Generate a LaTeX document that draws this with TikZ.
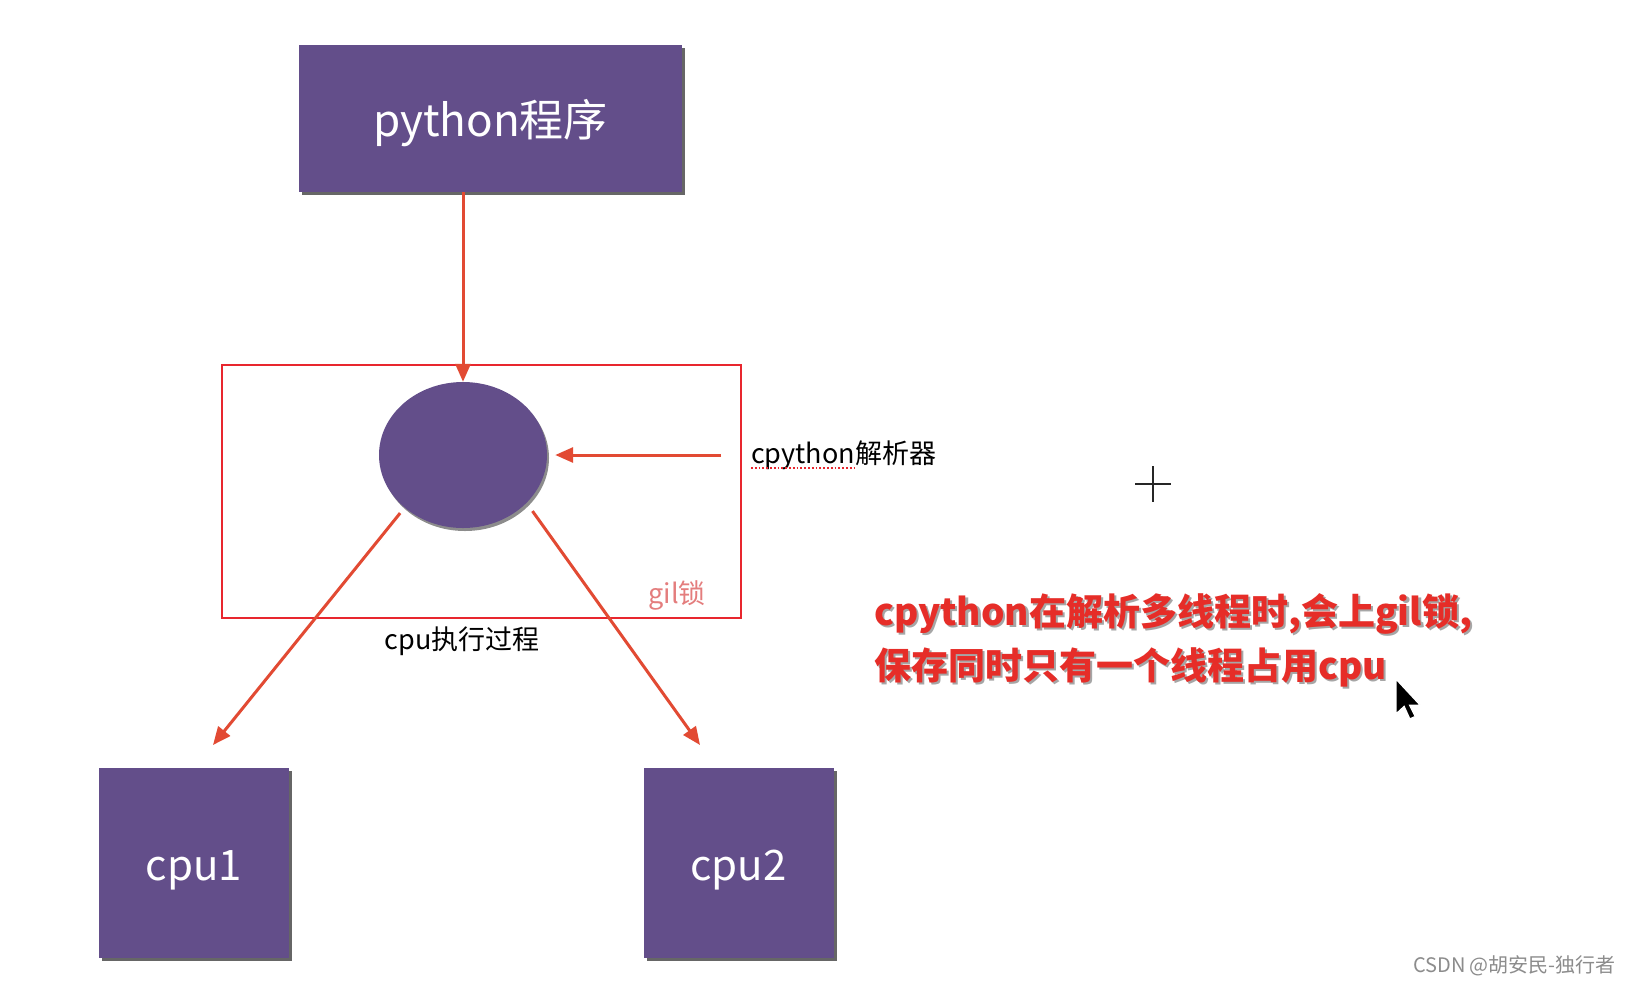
\documentclass[tikz,border=0pt]{standalone}
\usepackage{fontspec}
\setmainfont{Noto Sans CJK SC}
\usetikzlibrary{arrows.meta,shapes.geometric,shadows,calc}
\definecolor{boxpurple}{RGB}{99,78,138}
\definecolor{arrowred}{RGB}{226,74,51}
\definecolor{gilred}{RGB}{232,38,46}
\definecolor{gilpink}{RGB}{228,125,125}
\definecolor{notered}{RGB}{230,45,40}
\tikzset{
  purplebox/.style={fill=boxpurple, text=white, inner sep=0pt,
    drop shadow={shadow xshift=3pt, shadow yshift=-3pt, fill=black, opacity=0.6}},
  arr/.style={draw=arrowred, line width=3pt, -{Triangle[length=18pt,width=15pt]}},
  plain/.style={inner sep=0pt, text=black},
  notetxt/.style={inner sep=0pt, anchor=base west, font=\bfseries\fontsize{37}{40}\selectfont},
}
\begin{document}
\begin{tikzpicture}[x=1pt,y=-1pt]
\useasboundingbox[fill=white] (0,0) rectangle (1632,986);

% boxes
\node[purplebox, minimum width=383pt, minimum height=147pt,
  font=\fontsize{44}{48}\selectfont] (py) at (490.5,118.5) {\raisebox{-18pt}[0pt][0pt]{python程序}};
\node[ellipse, fill=boxpurple, minimum width=168pt, minimum height=146pt,
  drop shadow={shadow xshift=2pt, shadow yshift=-3pt, fill=black, opacity=0.45}] (cp) at (463,455) {};
\node[draw=gilred, line width=2.8pt, minimum width=519pt, minimum height=253pt] (gil) at (481.5,491.5) {};
\node[purplebox, minimum width=190pt, minimum height=190pt,
  font=\fontsize{42}{46}\selectfont] (cpu1) at (194,863) {\raisebox{-17pt}[0pt][0pt]{cpu1}};
\node[purplebox, minimum width=190pt, minimum height=190pt,
  font=\fontsize{42}{46}\selectfont] (cpu2) at (738.5,863) {\raisebox{-17pt}[0pt][0pt]{cpu2}};

% labels
\node[plain, anchor=west, font=\fontsize{27}{30}\selectfont] (lbl) at (751,455) {cpython解析器};
\draw[gilred, line width=1.8pt, dotted] ($(lbl.base west)+(0,5)$) -- ++(106,0);
\node[plain, text=gilpink, font=\fontsize{27}{30}\selectfont] (gl) at (677,595) {gil锁};
\node[plain, font=\fontsize{27}{30}\selectfont] (exe) at (462,641) {cpu执行过程};

% connectors
\draw[arr] (py.south -| cp.north) -- (cp.north);
\coordinate (a1) at (721,455);
\draw[arr, shorten >=8pt] (a1) -- (cp.east);
\coordinate (c1) at (213,745);
\coordinate (c2) at (700,745);
\draw[arr, shorten <=7pt] (cp.222) -- (c1);
\draw[arr, shorten <=10pt] (cp.-37) -- (c2);

% notes
\node[notetxt, text=black!35] (n1s) at (876.5,627.5) {cpython在解析多线程时,会上gil锁,};
\node[notetxt, text=notered] (n1) at (874,625) {cpython在解析多线程时,会上gil锁,};
\node[notetxt, text=black!35] (n2s) at (876.5,681.5) {保存同时只有一个线程占用cpu};
\node[notetxt, text=notered] (n2) at (874,679) {保存同时只有一个线程占用cpu};

% plus sign
\coordinate (plus) at (1153,484);
\draw[line width=2.4pt, black!85] ($(plus)+(-18,0)$) -- ($(plus)+(18,0)$)
  ($(plus)+(0,-18)$) -- ($(plus)+(0,18)$);

% cursor
\coordinate (cur) at (1396,679);
\draw[fill=black, draw=white, line width=1.4pt, shift={(cur)}, scale=1.25]
  (0,0) -- (0,28) -- (6.5,22) -- (11,32) -- (15.5,30) -- (11,21) -- (19.5,21) -- cycle;

% watermark
\node[inner sep=0pt, anchor=east, text=black!45, font=\fontsize{20}{22}\selectfont] (wm) at (1616,966) {CSDN @胡安民-独行者};
\end{tikzpicture}
\end{document}
